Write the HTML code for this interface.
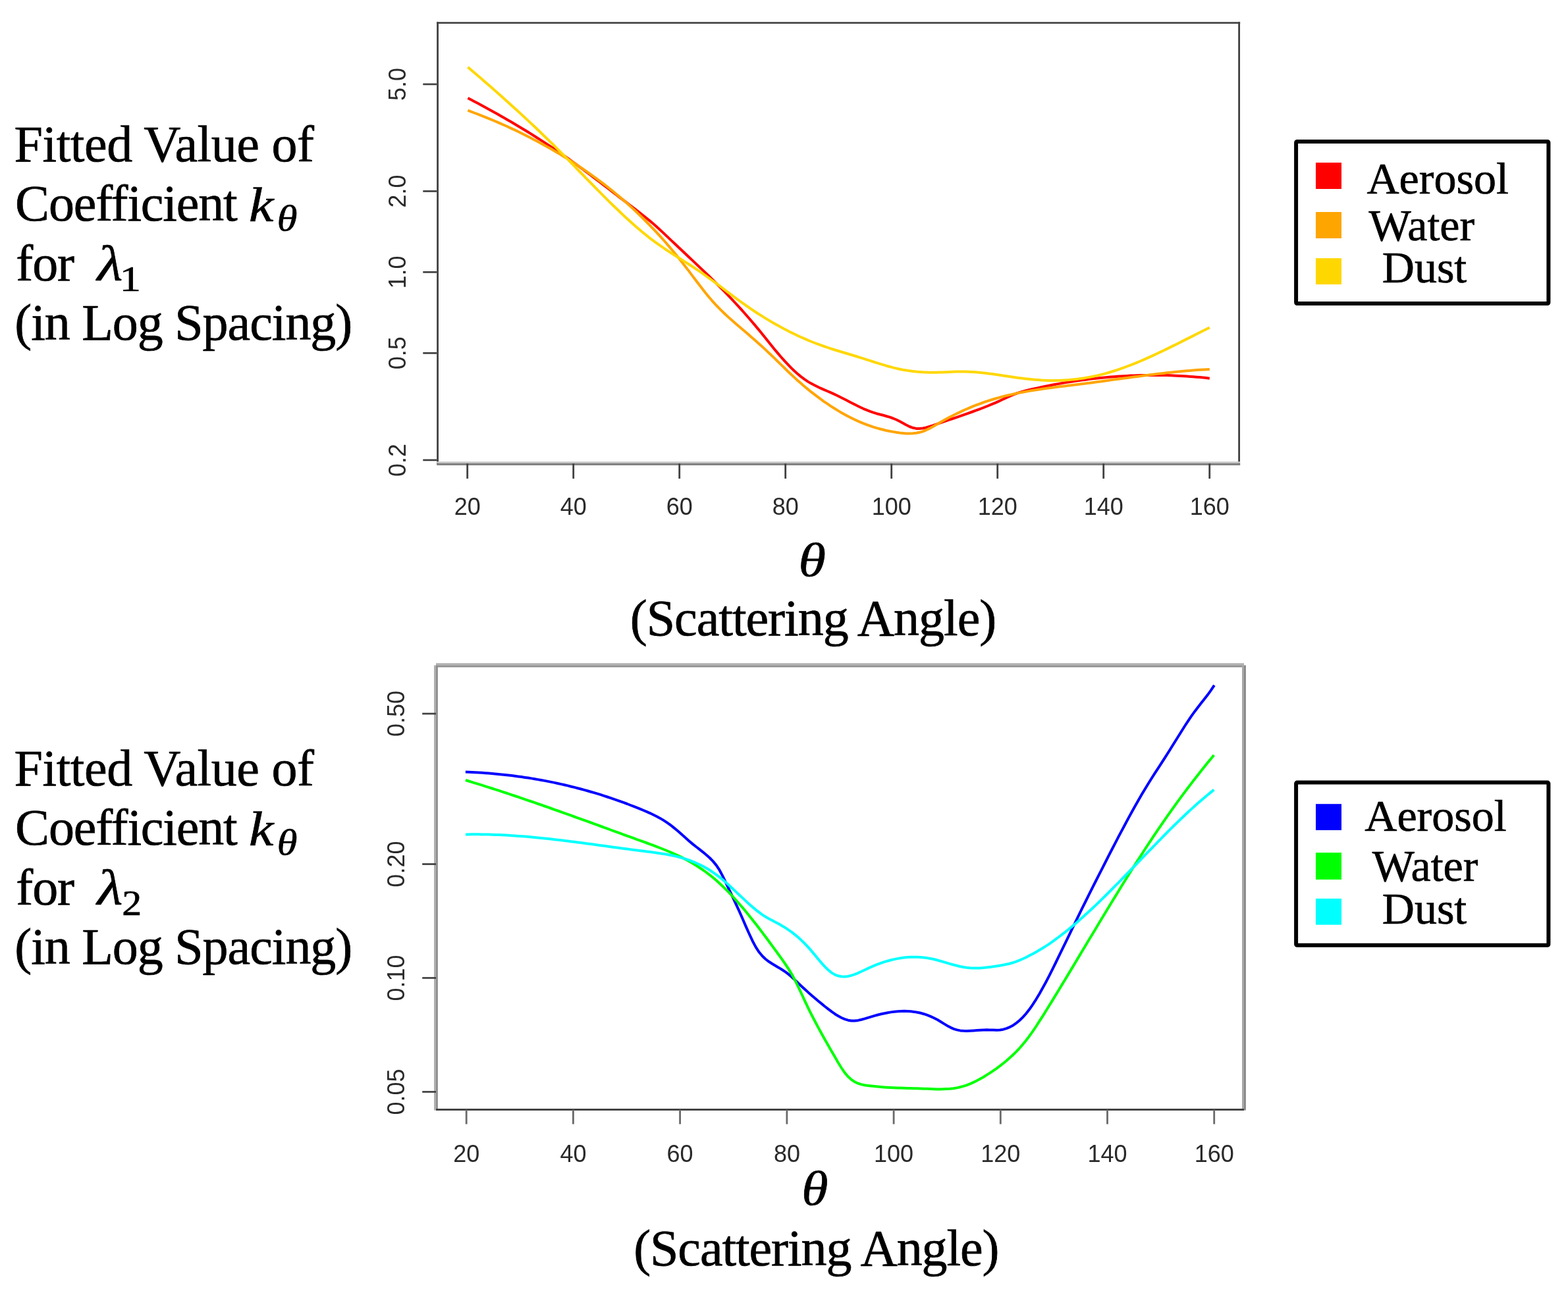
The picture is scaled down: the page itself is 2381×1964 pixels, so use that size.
<!DOCTYPE html>
<html><head><meta charset="utf-8"><title>Fitted value of coefficient k_theta</title>
<style>
html,body{margin:0;padding:0;background:#fff;}
body{width:2381px;height:1964px;overflow:hidden;}
svg{display:block;}
.serif{font-family:"Liberation Serif","Times New Roman",serif;}
.lbl text,.leg text{stroke:#000;stroke-width:0.7px;}
.sans{font-family:"Liberation Sans",Arial,sans-serif;}
</style></head><body>
<svg width="2381" height="1964" viewBox="0 0 2381 1964">
<rect x="0" y="0" width="2381" height="1964" fill="#fff"/>
<g class="serif lbl" fill="#000" font-size="78"><text id="T1" x="21.6" y="245.2" textLength="455.3" lengthAdjust="spacing" >Fitted Value of</text><text id="T2" x="23.1" y="335.3" textLength="337.6" lengthAdjust="spacing" >Coefficient</text><text id="T3" x="0" y="0" transform="translate(378.07,335.59) scale(1.079,0.962)" font-style="italic">k</text><text id="T4" x="0" y="0" transform="translate(420.66,349.62) scale(1.116,0.973)" font-size="56" font-style="italic">&#952;</text><text id="T5" x="24.3" y="425.6" textLength="88.8" lengthAdjust="spacing" >for</text><text id="T6" x="0" y="0" transform="translate(147.54,425.14) scale(1.153,0.970)" font-style="italic">&#955;</text><text id="T7" x="0" y="0" transform="translate(181.81,441.60) scale(1.195,1.017)" font-size="54" >1</text><text id="T8" x="22.2" y="515.5" textLength="513.1" lengthAdjust="spacing" >(in Log Spacing)</text></g>
<g class="serif lbl" fill="#000" font-size="78"><text id="B1" x="21.6" y="1193.2" textLength="455.3" lengthAdjust="spacing" >Fitted Value of</text><text id="B2" x="23.1" y="1283.3" textLength="337.6" lengthAdjust="spacing" >Coefficient</text><text id="B3" x="0" y="0" transform="translate(378.07,1283.59) scale(1.079,0.962)" font-style="italic">k</text><text id="B4" x="0" y="0" transform="translate(420.66,1297.62) scale(1.116,0.973)" font-size="56" font-style="italic">&#952;</text><text id="B5" x="24.3" y="1373.6" textLength="88.8" lengthAdjust="spacing" >for</text><text id="B6" x="0" y="0" transform="translate(147.54,1373.14) scale(1.153,0.970)" font-style="italic">&#955;</text><text id="B7" x="0" y="0" transform="translate(185.17,1389.60) scale(1.109,1.017)" font-size="54" >2</text><text id="B8" x="22.2" y="1463.5" textLength="513.1" lengthAdjust="spacing" >(in Log Spacing)</text></g>
<g class="serif lbl" fill="#000"><text id="XTt" x="0" y="0" transform="translate(1212.50,874.54) scale(1.112,0.958)" font-size="76" font-style="italic">&#952;</text><text id="XTs" x="956.8" y="965.3" font-size="78" textLength="556.4" lengthAdjust="spacing" >(Scattering Angle)</text></g>
<g class="serif lbl" fill="#000"><text id="XBt" x="0" y="0" transform="translate(1217.22,1830.33) scale(1.079,0.975)" font-size="76" font-style="italic">&#952;</text><text id="XBs" x="962.2" y="1921.9" font-size="78" textLength="555.3" lengthAdjust="spacing" >(Scattering Angle)</text></g>
<g fill="#404040">
<rect x="663.2" y="33.4" width="1220" height="2.6"/>
<rect x="663.2" y="33.4" width="2.8" height="672"/>
<rect x="1880.2" y="33.4" width="2.8" height="672"/>
</g>
<rect x="663.2" y="701.1" width="1220" height="2.7" fill="#c8c8c8"/>
<rect x="663.2" y="703.7" width="1220" height="3.0" fill="#7a7a7a"/>
<rect x="642.3" y="126.6" width="21" height="2.7" fill="#404040"/>
<text class="sans" font-size="36" fill="#2a2a2a" text-anchor="middle" transform="translate(615.5,127.9) rotate(-90)">5.0</text>
<rect x="642.3" y="289.1" width="21" height="2.7" fill="#404040"/>
<text class="sans" font-size="36" fill="#2a2a2a" text-anchor="middle" transform="translate(615.5,290.5) rotate(-90)">2.0</text>
<rect x="642.3" y="412.0" width="21" height="2.7" fill="#404040"/>
<text class="sans" font-size="36" fill="#2a2a2a" text-anchor="middle" transform="translate(615.5,413.4) rotate(-90)">1.0</text>
<rect x="642.3" y="535.0" width="21" height="2.7" fill="#404040"/>
<text class="sans" font-size="36" fill="#2a2a2a" text-anchor="middle" transform="translate(615.5,536.3) rotate(-90)">0.5</text>
<rect x="642.3" y="697.5" width="21" height="2.7" fill="#404040"/>
<text class="sans" font-size="36" fill="#2a2a2a" text-anchor="middle" transform="translate(615.5,698.9) rotate(-90)">0.2</text>
<rect x="708.3" y="704" width="2.8" height="23" fill="#404040"/>
<text class="sans" font-size="36" fill="#2a2a2a" text-anchor="middle" x="709.7" y="781.5">20</text>
<rect x="869.3" y="704" width="2.8" height="23" fill="#404040"/>
<text class="sans" font-size="36" fill="#2a2a2a" text-anchor="middle" x="870.7" y="781.5">40</text>
<rect x="1030.3" y="704" width="2.8" height="23" fill="#404040"/>
<text class="sans" font-size="36" fill="#2a2a2a" text-anchor="middle" x="1031.7" y="781.5">60</text>
<rect x="1191.3" y="704" width="2.8" height="23" fill="#404040"/>
<text class="sans" font-size="36" fill="#2a2a2a" text-anchor="middle" x="1192.7" y="781.5">80</text>
<rect x="1352.3" y="704" width="2.8" height="23" fill="#404040"/>
<text class="sans" font-size="36" fill="#2a2a2a" text-anchor="middle" x="1353.7" y="781.5">100</text>
<rect x="1513.3" y="704" width="2.8" height="23" fill="#404040"/>
<text class="sans" font-size="36" fill="#2a2a2a" text-anchor="middle" x="1514.7" y="781.5">120</text>
<rect x="1674.3" y="704" width="2.8" height="23" fill="#404040"/>
<text class="sans" font-size="36" fill="#2a2a2a" text-anchor="middle" x="1675.7" y="781.5">140</text>
<rect x="1835.3" y="704" width="2.8" height="23" fill="#404040"/>
<text class="sans" font-size="36" fill="#2a2a2a" text-anchor="middle" x="1836.7" y="781.5">160</text>
<path d="M710.4,148.9 L715.4,151.5 L720.4,154.2 L725.4,156.8 L730.4,159.5 L735.4,162.3 L740.4,165.0 L745.4,167.8 L750.4,170.5 L755.5,173.3 L760.5,176.2 L765.5,179.0 L770.5,181.9 L775.5,184.8 L780.5,187.8 L785.5,190.7 L790.5,193.7 L795.5,196.7 L800.5,199.8 L805.5,202.9 L810.5,206.0 L815.5,209.2 L820.5,212.4 L825.5,215.6 L830.5,218.9 L835.6,222.2 L840.6,225.5 L845.6,228.9 L850.6,232.3 L855.6,235.8 L860.6,239.3 L865.6,242.9 L870.6,246.5 L875.6,250.1 L880.6,253.8 L885.6,257.5 L890.6,261.3 L895.6,265.0 L900.6,268.8 L905.6,272.7 L910.6,276.5 L915.7,280.3 L920.7,284.2 L925.7,288.0 L930.7,291.9 L935.7,295.7 L940.7,299.6 L945.7,303.4 L950.7,307.2 L955.7,311.0 L960.7,314.8 L965.7,318.6 L970.7,322.5 L975.7,326.5 L980.7,330.5 L985.7,334.6 L990.7,338.8 L995.8,343.2 L1000.8,347.7 L1005.8,352.4 L1010.8,357.1 L1015.8,361.9 L1020.8,366.6 L1025.8,371.3 L1030.8,376.0 L1035.8,380.8 L1040.8,385.5 L1045.8,390.2 L1050.8,394.9 L1055.8,399.6 L1060.8,404.4 L1065.8,409.1 L1070.8,413.9 L1075.9,418.8 L1080.9,423.7 L1085.9,428.6 L1090.9,433.6 L1095.9,438.6 L1100.9,443.7 L1105.9,448.9 L1110.9,454.1 L1115.9,459.5 L1120.9,464.9 L1125.9,470.4 L1130.9,476.0 L1135.9,481.7 L1140.9,487.5 L1145.9,493.4 L1150.9,499.4 L1156.0,505.6 L1161.0,511.8 L1166.0,518.0 L1171.0,524.3 L1176.0,530.4 L1181.0,536.4 L1186.0,542.2 L1191.0,547.8 L1196.0,553.2 L1201.0,558.4 L1206.0,563.2 L1211.0,567.7 L1216.0,571.9 L1221.0,575.7 L1226.0,579.1 L1231.0,582.1 L1236.1,584.8 L1241.1,587.3 L1246.1,589.7 L1251.1,591.9 L1256.1,594.0 L1261.1,596.2 L1266.1,598.4 L1271.1,600.7 L1276.1,603.2 L1281.1,605.7 L1286.1,608.3 L1291.1,610.9 L1296.1,613.5 L1301.1,616.0 L1306.1,618.5 L1311.1,620.8 L1316.2,622.9 L1321.2,624.9 L1326.2,626.6 L1331.2,628.2 L1336.2,629.5 L1341.2,630.8 L1346.2,632.2 L1351.2,633.7 L1356.2,635.5 L1361.2,637.5 L1366.2,640.0 L1371.2,642.8 L1376.2,645.5 L1381.2,648.0 L1386.2,649.8 L1391.2,650.9 L1396.3,651.1 L1401.3,650.5 L1406.3,649.5 L1411.3,648.0 L1416.3,646.4 L1421.3,644.6 L1426.3,642.8 L1431.3,641.1 L1436.3,639.4 L1441.3,637.7 L1446.3,636.0 L1451.3,634.3 L1456.3,632.6 L1461.3,630.8 L1466.3,629.1 L1471.3,627.3 L1476.4,625.5 L1481.4,623.7 L1486.4,621.9 L1491.4,620.0 L1496.4,618.0 L1501.4,616.0 L1506.4,613.9 L1511.4,611.8 L1516.4,609.6 L1521.4,607.3 L1526.4,604.9 L1531.4,602.7 L1536.4,600.5 L1541.4,598.5 L1546.4,596.7 L1551.4,595.2 L1556.5,593.8 L1561.5,592.5 L1566.5,591.3 L1571.5,590.2 L1576.5,589.1 L1581.5,588.0 L1586.5,587.0 L1591.5,586.0 L1596.5,585.0 L1601.5,584.0 L1606.5,583.1 L1611.5,582.2 L1616.5,581.4 L1621.5,580.6 L1626.5,579.8 L1631.5,579.0 L1636.6,578.3 L1641.6,577.6 L1646.6,576.9 L1651.6,576.2 L1656.6,575.6 L1661.6,575.0 L1666.6,574.5 L1671.6,574.0 L1676.6,573.5 L1681.6,573.0 L1686.6,572.6 L1691.6,572.2 L1696.6,571.8 L1701.6,571.5 L1706.6,571.2 L1711.6,570.9 L1716.7,570.6 L1721.7,570.4 L1726.7,570.3 L1731.7,570.1 L1736.7,570.0 L1741.7,569.9 L1746.7,569.9 L1751.7,569.8 L1756.7,569.9 L1761.7,569.9 L1766.7,570.0 L1771.7,570.1 L1776.7,570.3 L1781.7,570.4 L1786.7,570.7 L1791.7,570.9 L1796.8,571.2 L1801.8,571.5 L1806.8,571.9 L1811.8,572.2 L1816.8,572.7 L1821.8,573.1 L1826.8,573.6 L1831.8,574.1 L1836.8,574.7" fill="none" stroke="#FF0000" stroke-width="4.0" stroke-linejoin="round" stroke-linecap="butt"/>
<path d="M710.4,167.7 L715.4,169.6 L720.4,171.5 L725.4,173.4 L730.4,175.3 L735.4,177.3 L740.4,179.4 L745.4,181.4 L750.4,183.5 L755.5,185.6 L760.5,187.8 L765.5,190.0 L770.5,192.3 L775.5,194.6 L780.5,196.9 L785.5,199.3 L790.5,201.7 L795.5,204.2 L800.5,206.7 L805.5,209.3 L810.5,211.9 L815.5,214.5 L820.5,217.2 L825.5,220.0 L830.5,222.7 L835.6,225.6 L840.6,228.5 L845.6,231.4 L850.6,234.4 L855.6,237.5 L860.6,240.6 L865.6,243.7 L870.6,247.0 L875.6,250.2 L880.6,253.6 L885.6,256.9 L890.6,260.4 L895.6,263.9 L900.6,267.5 L905.6,271.1 L910.6,274.9 L915.7,278.7 L920.7,282.5 L925.7,286.5 L930.7,290.5 L935.7,294.7 L940.7,298.9 L945.7,303.2 L950.7,307.6 L955.7,312.0 L960.7,316.6 L965.7,321.3 L970.7,326.1 L975.7,331.0 L980.7,336.0 L985.7,341.1 L990.7,346.3 L995.8,351.6 L1000.8,357.1 L1005.8,362.6 L1010.8,368.3 L1015.8,374.1 L1020.8,380.0 L1025.8,386.0 L1030.8,392.2 L1035.8,398.5 L1040.8,404.9 L1045.8,411.4 L1050.8,418.1 L1055.8,424.7 L1060.8,431.3 L1065.8,437.8 L1070.8,444.2 L1075.9,450.4 L1080.9,456.3 L1085.9,461.9 L1090.9,467.2 L1095.9,472.2 L1100.9,477.0 L1105.9,481.6 L1110.9,486.1 L1115.9,490.4 L1120.9,494.7 L1125.9,499.0 L1130.9,503.2 L1135.9,507.6 L1140.9,511.9 L1145.9,516.3 L1150.9,520.8 L1156.0,525.3 L1161.0,529.9 L1166.0,534.6 L1171.0,539.3 L1176.0,544.1 L1181.0,549.0 L1186.0,553.9 L1191.0,558.8 L1196.0,563.7 L1201.0,568.5 L1206.0,573.1 L1211.0,577.7 L1216.0,582.1 L1221.0,586.4 L1226.0,590.6 L1231.0,594.7 L1236.1,598.6 L1241.1,602.4 L1246.1,606.2 L1251.1,609.8 L1256.1,613.2 L1261.1,616.6 L1266.1,619.8 L1271.1,622.9 L1276.1,625.9 L1281.1,628.7 L1286.1,631.5 L1291.1,634.1 L1296.1,636.5 L1301.1,638.9 L1306.1,641.1 L1311.1,643.2 L1316.2,645.1 L1321.2,646.9 L1326.2,648.6 L1331.2,650.1 L1336.2,651.5 L1341.2,652.8 L1346.2,654.0 L1351.2,655.0 L1356.2,655.9 L1361.2,656.8 L1366.2,657.5 L1371.2,658.0 L1376.2,658.4 L1381.2,658.5 L1386.2,658.3 L1391.2,657.8 L1396.3,656.8 L1401.3,655.3 L1406.3,653.3 L1411.3,650.9 L1416.3,648.2 L1421.3,645.3 L1426.3,642.4 L1431.3,639.5 L1436.3,636.8 L1441.3,634.1 L1446.3,631.5 L1451.3,629.0 L1456.3,626.6 L1461.3,624.2 L1466.3,622.0 L1471.3,619.8 L1476.4,617.7 L1481.4,615.7 L1486.4,613.8 L1491.4,612.0 L1496.4,610.2 L1501.4,608.6 L1506.4,607.0 L1511.4,605.5 L1516.4,604.1 L1521.4,602.7 L1526.4,601.4 L1531.4,600.2 L1536.4,599.1 L1541.4,598.0 L1546.4,596.9 L1551.4,596.0 L1556.5,595.0 L1561.5,594.1 L1566.5,593.3 L1571.5,592.5 L1576.5,591.7 L1581.5,591.0 L1586.5,590.2 L1591.5,589.6 L1596.5,588.9 L1601.5,588.2 L1606.5,587.6 L1611.5,587.0 L1616.5,586.4 L1621.5,585.8 L1626.5,585.2 L1631.5,584.5 L1636.6,583.9 L1641.6,583.3 L1646.6,582.7 L1651.6,582.0 L1656.6,581.4 L1661.6,580.7 L1666.6,580.0 L1671.6,579.4 L1676.6,578.7 L1681.6,578.0 L1686.6,577.3 L1691.6,576.6 L1696.6,575.9 L1701.6,575.3 L1706.6,574.6 L1711.6,573.9 L1716.7,573.2 L1721.7,572.6 L1726.7,571.9 L1731.7,571.2 L1736.7,570.6 L1741.7,569.9 L1746.7,569.3 L1751.7,568.7 L1756.7,568.1 L1761.7,567.5 L1766.7,566.9 L1771.7,566.3 L1776.7,565.8 L1781.7,565.3 L1786.7,564.8 L1791.7,564.3 L1796.8,563.8 L1801.8,563.3 L1806.8,562.9 L1811.8,562.5 L1816.8,562.1 L1821.8,561.8 L1826.8,561.5 L1831.8,561.2 L1836.8,560.9" fill="none" stroke="#FFA500" stroke-width="4.0" stroke-linejoin="round" stroke-linecap="butt"/>
<path d="M710.4,101.9 L715.4,106.2 L720.4,110.5 L725.4,114.8 L730.4,119.1 L735.4,123.4 L740.4,127.8 L745.4,132.1 L750.4,136.5 L755.5,141.0 L760.5,145.4 L765.5,149.9 L770.5,154.4 L775.5,158.9 L780.5,163.4 L785.5,168.0 L790.5,172.6 L795.5,177.2 L800.5,181.9 L805.5,186.6 L810.5,191.3 L815.5,196.0 L820.5,200.8 L825.5,205.7 L830.5,210.5 L835.6,215.4 L840.6,220.3 L845.6,225.3 L850.6,230.3 L855.6,235.4 L860.6,240.4 L865.6,245.5 L870.6,250.7 L875.6,255.8 L880.6,261.0 L885.6,266.1 L890.6,271.3 L895.6,276.4 L900.6,281.5 L905.6,286.6 L910.6,291.7 L915.7,296.8 L920.7,301.8 L925.7,306.8 L930.7,311.7 L935.7,316.5 L940.7,321.3 L945.7,326.1 L950.7,330.7 L955.7,335.3 L960.7,339.8 L965.7,344.2 L970.7,348.5 L975.7,352.7 L980.7,356.8 L985.7,360.8 L990.7,364.6 L995.8,368.3 L1000.8,371.9 L1005.8,375.4 L1010.8,378.8 L1015.8,382.1 L1020.8,385.4 L1025.8,388.6 L1030.8,391.8 L1035.8,394.9 L1040.8,398.1 L1045.8,401.3 L1050.8,404.5 L1055.8,407.8 L1060.8,411.2 L1065.8,414.6 L1070.8,418.2 L1075.9,421.8 L1080.9,425.5 L1085.9,429.2 L1090.9,432.9 L1095.9,436.7 L1100.9,440.5 L1105.9,444.3 L1110.9,448.0 L1115.9,451.8 L1120.9,455.5 L1125.9,459.1 L1130.9,462.7 L1135.9,466.2 L1140.9,469.6 L1145.9,473.0 L1150.9,476.2 L1156.0,479.4 L1161.0,482.6 L1166.0,485.6 L1171.0,488.6 L1176.0,491.5 L1181.0,494.3 L1186.0,497.1 L1191.0,499.7 L1196.0,502.3 L1201.0,504.9 L1206.0,507.3 L1211.0,509.7 L1216.0,512.0 L1221.0,514.2 L1226.0,516.4 L1231.0,518.5 L1236.1,520.5 L1241.1,522.4 L1246.1,524.2 L1251.1,526.0 L1256.1,527.7 L1261.1,529.4 L1266.1,531.0 L1271.1,532.5 L1276.1,534.0 L1281.1,535.5 L1286.1,537.0 L1291.1,538.5 L1296.1,540.0 L1301.1,541.5 L1306.1,543.1 L1311.1,544.7 L1316.2,546.3 L1321.2,547.9 L1326.2,549.5 L1331.2,551.1 L1336.2,552.7 L1341.2,554.2 L1346.2,555.7 L1351.2,557.0 L1356.2,558.4 L1361.2,559.6 L1366.2,560.7 L1371.2,561.7 L1376.2,562.5 L1381.2,563.3 L1386.2,563.9 L1391.2,564.5 L1396.3,564.9 L1401.3,565.3 L1406.3,565.5 L1411.3,565.7 L1416.3,565.7 L1421.3,565.7 L1426.3,565.6 L1431.3,565.4 L1436.3,565.2 L1441.3,564.9 L1446.3,564.7 L1451.3,564.5 L1456.3,564.4 L1461.3,564.4 L1466.3,564.5 L1471.3,564.7 L1476.4,565.0 L1481.4,565.3 L1486.4,565.7 L1491.4,566.2 L1496.4,566.8 L1501.4,567.4 L1506.4,568.1 L1511.4,568.8 L1516.4,569.5 L1521.4,570.2 L1526.4,571.0 L1531.4,571.7 L1536.4,572.4 L1541.4,573.2 L1546.4,573.9 L1551.4,574.5 L1556.5,575.2 L1561.5,575.8 L1566.5,576.3 L1571.5,576.7 L1576.5,577.1 L1581.5,577.5 L1586.5,577.7 L1591.5,577.9 L1596.5,577.9 L1601.5,578.0 L1606.5,577.9 L1611.5,577.7 L1616.5,577.5 L1621.5,577.2 L1626.5,576.8 L1631.5,576.3 L1636.6,575.7 L1641.6,575.0 L1646.6,574.3 L1651.6,573.4 L1656.6,572.5 L1661.6,571.5 L1666.6,570.4 L1671.6,569.2 L1676.6,567.9 L1681.6,566.5 L1686.6,565.0 L1691.6,563.5 L1696.6,561.9 L1701.6,560.1 L1706.6,558.4 L1711.6,556.5 L1716.7,554.6 L1721.7,552.6 L1726.7,550.6 L1731.7,548.5 L1736.7,546.3 L1741.7,544.1 L1746.7,541.9 L1751.7,539.6 L1756.7,537.2 L1761.7,534.9 L1766.7,532.5 L1771.7,530.1 L1776.7,527.6 L1781.7,525.1 L1786.7,522.7 L1791.7,520.2 L1796.8,517.6 L1801.8,515.1 L1806.8,512.6 L1811.8,510.1 L1816.8,507.5 L1821.8,505.0 L1826.8,502.5 L1831.8,500.0 L1836.8,497.6" fill="none" stroke="#FFD700" stroke-width="4.0" stroke-linejoin="round" stroke-linecap="butt"/>
<rect x="659" y="1007.3" width="233" height="0" fill="none"/>
<rect x="659" y="1010.5" width="3" height="676" fill="#b0b0b0"/>
<rect x="662" y="1010.5" width="2.9" height="676" fill="#909090"/>
<rect x="662" y="1007.3" width="1227" height="3.2" fill="#b0b0b0"/>
<rect x="662" y="1010.5" width="1227" height="3.0" fill="#909090"/>
<rect x="1886" y="1010.5" width="3" height="676" fill="#a8a8a8"/>
<rect x="1889" y="1010.5" width="2.9" height="676" fill="#8a8a8a"/>
<rect x="662" y="1684" width="1227" height="2.9" fill="#404040"/>
<rect x="641.2" y="1082.7" width="20.8" height="2.7" fill="#404040"/>
<text class="sans" font-size="36" fill="#2a2a2a" text-anchor="middle" transform="translate(613.5,1084.0) rotate(-90)">0.50</text>
<rect x="641.2" y="1311.2" width="20.8" height="2.7" fill="#404040"/>
<text class="sans" font-size="36" fill="#2a2a2a" text-anchor="middle" transform="translate(613.5,1312.6) rotate(-90)">0.20</text>
<rect x="641.2" y="1484.1" width="20.8" height="2.7" fill="#404040"/>
<text class="sans" font-size="36" fill="#2a2a2a" text-anchor="middle" transform="translate(613.5,1485.5) rotate(-90)">0.10</text>
<rect x="641.2" y="1657.1" width="20.8" height="2.7" fill="#404040"/>
<text class="sans" font-size="36" fill="#2a2a2a" text-anchor="middle" transform="translate(613.5,1658.4) rotate(-90)">0.05</text>
<rect x="706.8" y="1685.5" width="2.8" height="22" fill="#6a6a6a"/>
<text class="sans" font-size="36" fill="#2a2a2a" text-anchor="middle" x="708.2" y="1764.5">20</text>
<rect x="869.0" y="1685.5" width="2.8" height="22" fill="#6a6a6a"/>
<text class="sans" font-size="36" fill="#2a2a2a" text-anchor="middle" x="870.4" y="1764.5">40</text>
<rect x="1031.2" y="1685.5" width="2.8" height="22" fill="#6a6a6a"/>
<text class="sans" font-size="36" fill="#2a2a2a" text-anchor="middle" x="1032.6" y="1764.5">60</text>
<rect x="1193.5" y="1685.5" width="2.8" height="22" fill="#6a6a6a"/>
<text class="sans" font-size="36" fill="#2a2a2a" text-anchor="middle" x="1194.9" y="1764.5">80</text>
<rect x="1355.7" y="1685.5" width="2.8" height="22" fill="#6a6a6a"/>
<text class="sans" font-size="36" fill="#2a2a2a" text-anchor="middle" x="1357.1" y="1764.5">100</text>
<rect x="1517.9" y="1685.5" width="2.8" height="22" fill="#6a6a6a"/>
<text class="sans" font-size="36" fill="#2a2a2a" text-anchor="middle" x="1519.3" y="1764.5">120</text>
<rect x="1680.1" y="1685.5" width="2.8" height="22" fill="#6a6a6a"/>
<text class="sans" font-size="36" fill="#2a2a2a" text-anchor="middle" x="1681.5" y="1764.5">140</text>
<rect x="1842.3" y="1685.5" width="2.8" height="22" fill="#6a6a6a"/>
<text class="sans" font-size="36" fill="#2a2a2a" text-anchor="middle" x="1843.7" y="1764.5">160</text>
<path d="M706.9,1172.5 L711.9,1172.7 L716.9,1172.9 L721.9,1173.2 L726.9,1173.5 L731.9,1173.8 L737.0,1174.2 L742.0,1174.6 L747.0,1175.0 L752.0,1175.4 L757.0,1175.9 L762.0,1176.4 L767.0,1177.0 L772.0,1177.5 L777.0,1178.1 L782.0,1178.8 L787.0,1179.4 L792.0,1180.1 L797.1,1180.9 L802.1,1181.6 L807.1,1182.4 L812.1,1183.3 L817.1,1184.1 L822.1,1185.0 L827.1,1185.9 L832.1,1186.9 L837.1,1187.9 L842.1,1188.9 L847.1,1190.0 L852.2,1191.1 L857.2,1192.3 L862.2,1193.4 L867.2,1194.7 L872.2,1195.9 L877.2,1197.2 L882.2,1198.5 L887.2,1199.9 L892.2,1201.3 L897.2,1202.7 L902.2,1204.2 L907.3,1205.7 L912.3,1207.2 L917.3,1208.8 L922.3,1210.5 L927.3,1212.1 L932.3,1213.8 L937.3,1215.6 L942.3,1217.4 L947.3,1219.2 L952.3,1221.0 L957.3,1223.0 L962.3,1224.9 L967.4,1226.9 L972.4,1228.9 L977.4,1231.0 L982.4,1233.1 L987.4,1235.3 L992.4,1237.7 L997.4,1240.2 L1002.4,1242.9 L1007.4,1245.9 L1012.4,1249.1 L1017.4,1252.7 L1022.5,1256.6 L1027.5,1260.8 L1032.5,1265.1 L1037.5,1269.6 L1042.5,1274.0 L1047.5,1278.4 L1052.5,1282.6 L1057.5,1286.5 L1062.5,1290.4 L1067.5,1294.3 L1072.5,1298.5 L1077.6,1303.0 L1082.6,1308.1 L1087.6,1314.1 L1092.6,1321.7 L1097.6,1331.1 L1102.6,1341.6 L1107.6,1352.1 L1112.6,1362.7 L1117.6,1373.3 L1122.6,1384.2 L1127.6,1395.5 L1132.6,1407.1 L1137.7,1418.5 L1142.7,1429.2 L1147.7,1438.6 L1152.7,1446.3 L1157.7,1452.3 L1162.7,1457.0 L1167.7,1460.8 L1172.7,1464.0 L1177.7,1467.0 L1182.7,1469.9 L1187.7,1473.0 L1192.8,1476.4 L1197.8,1480.2 L1202.8,1484.5 L1207.8,1489.1 L1212.8,1493.9 L1217.8,1498.7 L1222.8,1503.3 L1227.8,1507.9 L1232.8,1512.3 L1237.8,1516.6 L1242.8,1520.8 L1247.9,1524.9 L1252.9,1529.0 L1257.9,1532.9 L1262.9,1536.7 L1267.9,1540.2 L1272.9,1543.3 L1277.9,1546.0 L1282.9,1548.2 L1287.9,1549.7 L1292.9,1550.5 L1297.9,1550.5 L1302.9,1549.9 L1308.0,1548.8 L1313.0,1547.4 L1318.0,1545.8 L1323.0,1544.3 L1328.0,1542.9 L1333.0,1541.5 L1338.0,1540.3 L1343.0,1539.2 L1348.0,1538.2 L1353.0,1537.4 L1358.0,1536.7 L1363.1,1536.2 L1368.1,1535.9 L1373.1,1535.8 L1378.1,1535.9 L1383.1,1536.3 L1388.1,1536.9 L1393.1,1537.7 L1398.1,1538.8 L1403.1,1540.2 L1408.1,1541.9 L1413.1,1543.9 L1418.2,1546.2 L1423.2,1548.8 L1428.2,1551.8 L1433.2,1554.9 L1438.2,1557.9 L1443.2,1560.6 L1448.2,1562.8 L1453.2,1564.4 L1458.2,1565.4 L1463.2,1565.8 L1468.2,1566.0 L1473.2,1565.8 L1478.3,1565.5 L1483.3,1565.1 L1488.3,1564.7 L1493.3,1564.4 L1498.3,1564.3 L1503.3,1564.4 L1508.3,1564.6 L1513.3,1564.7 L1518.3,1564.5 L1523.3,1563.7 L1528.3,1562.2 L1533.4,1560.1 L1538.4,1557.4 L1543.4,1553.9 L1548.4,1549.8 L1553.4,1544.9 L1558.4,1539.2 L1563.4,1532.8 L1568.4,1525.6 L1573.4,1517.8 L1578.4,1509.4 L1583.4,1500.5 L1588.5,1491.2 L1593.5,1481.6 L1598.5,1471.6 L1603.5,1461.5 L1608.5,1451.2 L1613.5,1440.9 L1618.5,1430.6 L1623.5,1420.3 L1628.5,1409.9 L1633.5,1399.6 L1638.5,1389.4 L1643.5,1379.2 L1648.6,1369.0 L1653.6,1358.9 L1658.6,1348.9 L1663.6,1339.0 L1668.6,1329.1 L1673.6,1319.3 L1678.6,1309.5 L1683.6,1299.7 L1688.6,1290.0 L1693.6,1280.3 L1698.6,1270.7 L1703.7,1261.1 L1708.7,1251.7 L1713.7,1242.4 L1718.7,1233.2 L1723.7,1224.2 L1728.7,1215.4 L1733.7,1206.8 L1738.7,1198.5 L1743.7,1190.3 L1748.7,1182.3 L1753.7,1174.4 L1758.8,1166.6 L1763.8,1158.8 L1768.8,1151.1 L1773.8,1143.2 L1778.8,1135.3 L1783.8,1127.2 L1788.8,1119.2 L1793.8,1111.2 L1798.8,1103.3 L1803.8,1095.6 L1808.8,1088.2 L1813.8,1081.2 L1818.9,1074.5 L1823.9,1068.1 L1828.9,1061.8 L1833.9,1055.3 L1838.9,1048.4 L1843.9,1040.9" fill="none" stroke="#0000FF" stroke-width="4.0" stroke-linejoin="round" stroke-linecap="butt"/>
<path d="M706.9,1185.0 L711.9,1186.5 L716.9,1188.1 L721.9,1189.6 L726.9,1191.2 L731.9,1192.7 L736.9,1194.3 L741.9,1195.9 L747.0,1197.5 L752.0,1199.1 L757.0,1200.7 L762.0,1202.4 L767.0,1204.0 L772.0,1205.7 L777.0,1207.3 L782.0,1209.0 L787.0,1210.7 L792.0,1212.4 L797.0,1214.1 L802.0,1215.8 L807.0,1217.5 L812.0,1219.2 L817.0,1221.0 L822.1,1222.7 L827.1,1224.5 L832.1,1226.2 L837.1,1228.0 L842.1,1229.8 L847.1,1231.5 L852.1,1233.3 L857.1,1235.1 L862.1,1236.9 L867.1,1238.7 L872.1,1240.5 L877.1,1242.3 L882.1,1244.1 L887.1,1245.9 L892.1,1247.7 L897.2,1249.5 L902.2,1251.3 L907.2,1253.2 L912.2,1255.0 L917.2,1256.8 L922.2,1258.6 L927.2,1260.5 L932.2,1262.3 L937.2,1264.1 L942.2,1265.9 L947.2,1267.8 L952.2,1269.6 L957.2,1271.4 L962.2,1273.2 L967.2,1275.1 L972.3,1276.9 L977.3,1278.7 L982.3,1280.5 L987.3,1282.3 L992.3,1284.2 L997.3,1286.1 L1002.3,1288.0 L1007.3,1290.0 L1012.3,1292.0 L1017.3,1294.1 L1022.3,1296.3 L1027.3,1298.6 L1032.3,1300.9 L1037.3,1303.4 L1042.3,1306.1 L1047.3,1308.8 L1052.4,1311.7 L1057.4,1314.8 L1062.4,1318.0 L1067.4,1321.4 L1072.4,1325.0 L1077.4,1328.8 L1082.4,1332.8 L1087.4,1337.0 L1092.4,1341.5 L1097.4,1346.2 L1102.4,1351.1 L1107.4,1356.2 L1112.4,1361.5 L1117.4,1367.0 L1122.4,1372.7 L1127.5,1378.5 L1132.5,1384.5 L1137.5,1390.7 L1142.5,1396.9 L1147.5,1403.3 L1152.5,1409.8 L1157.5,1416.4 L1162.5,1423.0 L1167.5,1429.8 L1172.5,1436.6 L1177.5,1443.4 L1182.5,1450.2 L1187.5,1457.1 L1192.5,1464.3 L1197.5,1471.9 L1202.6,1480.3 L1207.6,1489.6 L1212.6,1499.8 L1217.6,1510.5 L1222.6,1521.3 L1227.6,1531.8 L1232.6,1541.8 L1237.6,1551.5 L1242.6,1560.9 L1247.6,1570.0 L1252.6,1578.9 L1257.6,1587.7 L1262.6,1596.4 L1267.6,1605.1 L1272.6,1613.8 L1277.7,1622.0 L1282.7,1629.4 L1287.7,1635.3 L1292.7,1639.8 L1297.7,1643.2 L1302.7,1645.5 L1307.7,1647.1 L1312.7,1648.2 L1317.7,1648.9 L1322.7,1649.5 L1327.7,1650.1 L1332.7,1650.6 L1337.7,1651.0 L1342.7,1651.4 L1347.7,1651.7 L1352.8,1652.0 L1357.8,1652.2 L1362.8,1652.4 L1367.8,1652.6 L1372.8,1652.8 L1377.8,1652.9 L1382.8,1653.0 L1387.8,1653.2 L1392.8,1653.3 L1397.8,1653.5 L1402.8,1653.7 L1407.8,1653.8 L1412.8,1654.0 L1417.8,1654.2 L1422.8,1654.4 L1427.9,1654.4 L1432.9,1654.3 L1437.9,1654.1 L1442.9,1653.8 L1447.9,1653.2 L1452.9,1652.4 L1457.9,1651.3 L1462.9,1649.9 L1467.9,1648.3 L1472.9,1646.3 L1477.9,1644.1 L1482.9,1641.7 L1487.9,1639.1 L1492.9,1636.2 L1497.9,1633.1 L1503.0,1629.9 L1508.0,1626.6 L1513.0,1623.1 L1518.0,1619.4 L1523.0,1615.5 L1528.0,1611.5 L1533.0,1607.1 L1538.0,1602.5 L1543.0,1597.6 L1548.0,1592.3 L1553.0,1586.6 L1558.0,1580.5 L1563.0,1573.9 L1568.0,1566.9 L1573.0,1559.5 L1578.0,1551.7 L1583.1,1543.8 L1588.1,1535.8 L1593.1,1527.7 L1598.1,1519.6 L1603.1,1511.4 L1608.1,1503.2 L1613.1,1494.9 L1618.1,1486.7 L1623.1,1478.4 L1628.1,1470.1 L1633.1,1461.7 L1638.1,1453.4 L1643.1,1445.0 L1648.1,1436.7 L1653.1,1428.3 L1658.2,1420.0 L1663.2,1411.7 L1668.2,1403.3 L1673.2,1395.0 L1678.2,1386.8 L1683.2,1378.5 L1688.2,1370.3 L1693.2,1362.1 L1698.2,1354.0 L1703.2,1345.8 L1708.2,1337.8 L1713.2,1329.8 L1718.2,1321.8 L1723.2,1313.9 L1728.2,1306.0 L1733.3,1298.3 L1738.3,1290.5 L1743.3,1282.9 L1748.3,1275.3 L1753.3,1267.8 L1758.3,1260.4 L1763.3,1253.1 L1768.3,1245.9 L1773.3,1238.7 L1778.3,1231.6 L1783.3,1224.6 L1788.3,1217.7 L1793.3,1210.9 L1798.3,1204.1 L1803.3,1197.5 L1808.4,1190.9 L1813.4,1184.3 L1818.4,1177.9 L1823.4,1171.6 L1828.4,1165.3 L1833.4,1159.1 L1838.4,1153.0 L1843.4,1146.9" fill="none" stroke="#00FF00" stroke-width="4.0" stroke-linejoin="round" stroke-linecap="butt"/>
<path d="M706.9,1267.5 L711.9,1267.4 L716.9,1267.3 L721.9,1267.3 L726.9,1267.3 L731.9,1267.4 L736.9,1267.4 L741.9,1267.6 L747.0,1267.7 L752.0,1267.9 L757.0,1268.1 L762.0,1268.3 L767.0,1268.6 L772.0,1268.8 L777.0,1269.2 L782.0,1269.5 L787.0,1269.9 L792.0,1270.2 L797.0,1270.6 L802.0,1271.1 L807.0,1271.5 L812.0,1272.0 L817.0,1272.5 L822.1,1273.0 L827.1,1273.5 L832.1,1274.0 L837.1,1274.6 L842.1,1275.2 L847.1,1275.7 L852.1,1276.3 L857.1,1276.9 L862.1,1277.6 L867.1,1278.2 L872.1,1278.8 L877.1,1279.5 L882.1,1280.1 L887.1,1280.8 L892.1,1281.4 L897.2,1282.1 L902.2,1282.8 L907.2,1283.5 L912.2,1284.2 L917.2,1284.8 L922.2,1285.5 L927.2,1286.2 L932.2,1286.9 L937.2,1287.6 L942.2,1288.2 L947.2,1288.9 L952.2,1289.6 L957.2,1290.2 L962.2,1290.9 L967.2,1291.6 L972.3,1292.2 L977.3,1292.8 L982.3,1293.5 L987.3,1294.1 L992.3,1294.7 L997.3,1295.4 L1002.3,1296.2 L1007.3,1296.9 L1012.3,1297.8 L1017.3,1298.7 L1022.3,1299.8 L1027.3,1300.9 L1032.3,1302.2 L1037.3,1303.6 L1042.3,1305.2 L1047.3,1306.9 L1052.4,1308.9 L1057.4,1311.0 L1062.4,1313.3 L1067.4,1315.8 L1072.4,1318.5 L1077.4,1321.5 L1082.4,1324.8 L1087.4,1328.3 L1092.4,1332.1 L1097.4,1336.2 L1102.4,1340.5 L1107.4,1345.0 L1112.4,1349.7 L1117.4,1354.4 L1122.4,1359.2 L1127.5,1363.9 L1132.5,1368.6 L1137.5,1373.2 L1142.5,1377.6 L1147.5,1381.8 L1152.5,1385.7 L1157.5,1389.3 L1162.5,1392.6 L1167.5,1395.5 L1172.5,1398.1 L1177.5,1400.7 L1182.5,1403.3 L1187.5,1406.2 L1192.5,1409.2 L1197.5,1412.6 L1202.6,1416.2 L1207.6,1420.1 L1212.6,1424.3 L1217.6,1428.9 L1222.6,1433.8 L1227.6,1439.1 L1232.6,1444.9 L1237.6,1450.9 L1242.6,1457.0 L1247.6,1462.9 L1252.6,1468.4 L1257.6,1473.3 L1262.6,1477.4 L1267.6,1480.4 L1272.6,1482.3 L1277.7,1483.3 L1282.7,1483.4 L1287.7,1482.9 L1292.7,1481.7 L1297.7,1480.1 L1302.7,1478.1 L1307.7,1475.8 L1312.7,1473.5 L1317.7,1471.1 L1322.7,1468.8 L1327.7,1466.7 L1332.7,1464.7 L1337.7,1462.9 L1342.7,1461.2 L1347.7,1459.7 L1352.8,1458.3 L1357.8,1457.1 L1362.8,1456.1 L1367.8,1455.3 L1372.8,1454.6 L1377.8,1454.1 L1382.8,1453.8 L1387.8,1453.7 L1392.8,1453.7 L1397.8,1454.0 L1402.8,1454.5 L1407.8,1455.1 L1412.8,1456.0 L1417.8,1457.0 L1422.8,1458.3 L1427.9,1459.7 L1432.9,1461.1 L1437.9,1462.6 L1442.9,1464.1 L1447.9,1465.5 L1452.9,1466.8 L1457.9,1468.0 L1462.9,1469.0 L1467.9,1469.7 L1472.9,1470.2 L1477.9,1470.5 L1482.9,1470.5 L1487.9,1470.4 L1492.9,1470.1 L1497.9,1469.6 L1503.0,1469.0 L1508.0,1468.3 L1513.0,1467.5 L1518.0,1466.7 L1523.0,1465.8 L1528.0,1464.8 L1533.0,1463.7 L1538.0,1462.3 L1543.0,1460.6 L1548.0,1458.7 L1553.0,1456.5 L1558.0,1454.2 L1563.0,1451.6 L1568.0,1449.0 L1573.0,1446.2 L1578.0,1443.3 L1583.1,1440.3 L1588.1,1437.1 L1593.1,1433.8 L1598.1,1430.3 L1603.1,1426.7 L1608.1,1423.0 L1613.1,1419.2 L1618.1,1415.3 L1623.1,1411.2 L1628.1,1407.1 L1633.1,1402.9 L1638.1,1398.5 L1643.1,1394.1 L1648.1,1389.6 L1653.1,1385.0 L1658.2,1380.3 L1663.2,1375.6 L1668.2,1370.8 L1673.2,1365.9 L1678.2,1361.0 L1683.2,1356.0 L1688.2,1351.0 L1693.2,1345.9 L1698.2,1340.8 L1703.2,1335.7 L1708.2,1330.5 L1713.2,1325.4 L1718.2,1320.2 L1723.2,1315.0 L1728.2,1309.8 L1733.3,1304.6 L1738.3,1299.4 L1743.3,1294.2 L1748.3,1289.0 L1753.3,1283.8 L1758.3,1278.7 L1763.3,1273.6 L1768.3,1268.5 L1773.3,1263.4 L1778.3,1258.4 L1783.3,1253.5 L1788.3,1248.6 L1793.3,1243.8 L1798.3,1239.0 L1803.3,1234.3 L1808.4,1229.6 L1813.4,1225.1 L1818.4,1220.6 L1823.4,1216.2 L1828.4,1211.9 L1833.4,1207.7 L1838.4,1203.6 L1843.4,1199.6" fill="none" stroke="#00FFFF" stroke-width="4.0" stroke-linejoin="round" stroke-linecap="butt"/>
<rect x="1968.1" y="215.0" width="383.3" height="246.0" fill="none" stroke="#000" stroke-width="6.0" rx="1.5"/>
<rect x="1998" y="247.0" width="39" height="40.0" fill="#FF0000"/>
<rect x="1998" y="322.0" width="39" height="40.0" fill="#FFA500"/>
<rect x="1998" y="392.2" width="39" height="39.8" fill="#FFD700"/>
<g class="serif leg" fill="#000" font-size="68">
<text x="2075.5" y="293.8">Aerosol</text>
<text x="2078.5" y="365.0">Water</text>
<text x="2098.8" y="428.8">Dust</text>
</g>
<rect x="1968.1" y="1188.6" width="383.3" height="247.1" fill="none" stroke="#000" stroke-width="6.0" rx="1.5"/>
<rect x="1998" y="1221.2" width="39" height="39.8" fill="#0000FF"/>
<rect x="1998" y="1295.1" width="39" height="40.9" fill="#00FF00"/>
<rect x="1998" y="1364.9" width="39" height="39.8" fill="#00FFFF"/>
<g class="serif leg" fill="#000" font-size="68">
<text x="2072.3" y="1261.5">Aerosol</text>
<text x="2083.8" y="1337.5">Water</text>
<text x="2098.8" y="1402.5">Dust</text>
</g>
</svg>
</body></html>
